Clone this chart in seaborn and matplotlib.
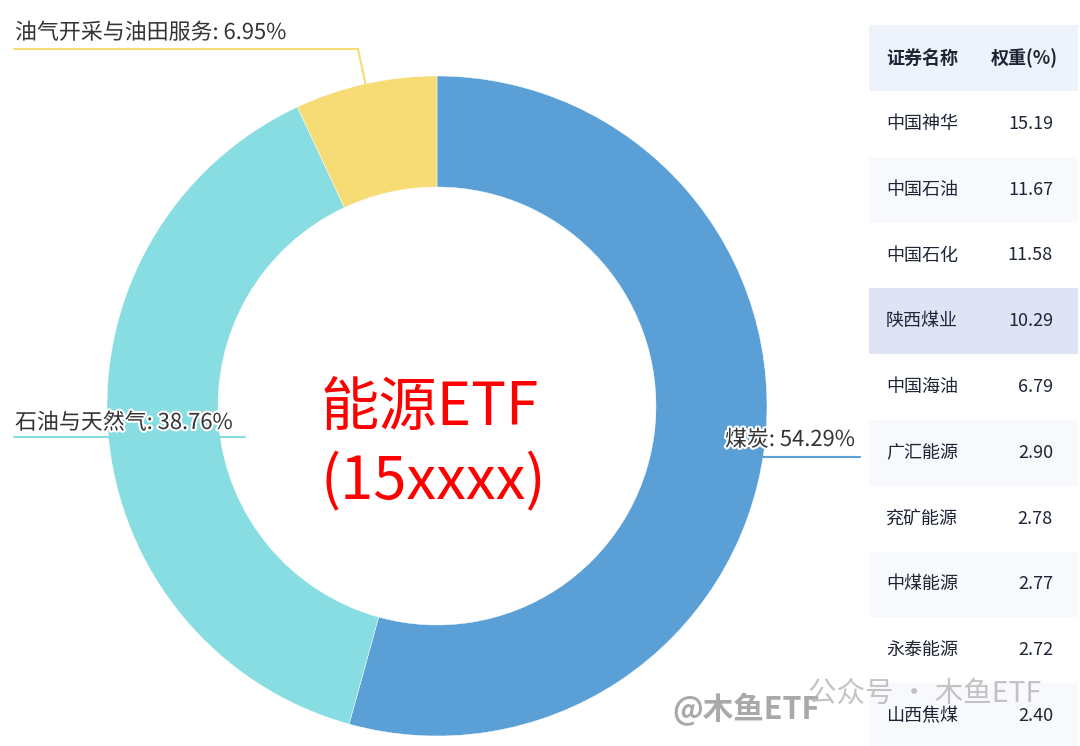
import matplotlib.pyplot as plt
import matplotlib.patheffects as pe
from matplotlib.patches import Rectangle
import numpy as np
import seaborn as sns

# sector weights of the ETF (clockwise from 12 o'clock)
sectors = ["煤炭", "石油与天然气", "油气开采与油田服务"]
sector_weights = [54.29, 38.76, 6.95]
sector_colors = ["#5AA0D6", "#88DDE2", "#F7DB74"]

# top holdings table
stocks = ["中国神华", "中国石油", "中国石化", "陕西煤业", "中国海油",
          "广汇能源", "兖矿能源", "中煤能源", "永泰能源", "山西焦煤"]
stock_weights = [15.19, 11.67, 11.58, 10.29, 6.79, 2.90, 2.78, 2.77, 2.72, 2.40]
table_header = ["证券名称", "权重(%)"]

sns.set_theme(style="white")
plt.rcParams['font.family'] = ['Noto Sans CJK SC', 'DejaVu Sans']

W, H = 1080, 746
fig = plt.figure(figsize=(10.8, 7.46), dpi=100)
ax = fig.add_axes([0, 0, 1, 1])

# donut, pixel coordinates (y up)
cx, cy, r = 437, H - 406, 330
wedges, _ = ax.pie(sector_weights, colors=sector_colors, startangle=90, counterclock=False,
                   center=(cx, cy), radius=r, frame=True,
                   wedgeprops=dict(width=111, edgecolor="white", linewidth=0.3))
ax.set_xlim(0, W)
ax.set_ylim(0, H)
ax.set_aspect("equal")
ax.axis("off")

stroke = [pe.withStroke(linewidth=3, foreground="white")]
txt_col = "#333333"
lbl_fs = 15.8

# label: coal (right)
ax.plot([763, 860], [H - 457, H - 457], color=sector_colors[0], lw=1.5)
ax.text(725, H - 440, f"{sectors[0]}: {sector_weights[0]:.2f}%", fontsize=lbl_fs, color=txt_col,
        va="center", ha="left", path_effects=stroke)

# label: oil & gas (left)
ax.plot([14, 245], [H - 437, H - 437], color=sector_colors[1], lw=1.5)
ax.text(15, H - 423, f"{sectors[1]}: {sector_weights[1]:.2f}%", fontsize=lbl_fs, color=txt_col,
        va="center", ha="left", path_effects=stroke)

# label: oilfield services (top-left), leader line to wedge middle
ang = np.deg2rad(90 + sector_weights[2] / 2 * 3.6)
px, py = cx + r * np.cos(ang), cy + r * np.sin(ang)
ax.plot([14, 358, px], [H - 49, H - 49, py], color=sector_colors[2], lw=1.5)
ax.text(15, H - 33, f"{sectors[2]}: {sector_weights[2]:.2f}%", fontsize=lbl_fs, color=txt_col,
        va="center", ha="left", path_effects=stroke)

# center title
ax.text(430, H - 408, "能源ETF", fontsize=42, color="#FF0000", ha="center", va="center")
ax.text(433, H - 483, "(15xxxx)", fontsize=43, color="#FF0000", ha="center", va="center")

# holdings table
tx0, tx1 = 869, 1078
head_top, head_bot = 25, 91
row_h = 65.8
ax.add_patch(Rectangle((tx0, H - head_bot), tx1 - tx0, head_bot - head_top, color="#EEF2FA", lw=0))
ax.text(886, H - (head_top + head_bot) / 2, table_header[0], fontsize=13, fontweight="bold",
        color="#1E2535", va="center", ha="left")
ax.text(1058, H - (head_top + head_bot) / 2, table_header[1], fontsize=13, fontweight="bold",
        color="#1E2535", va="center", ha="right")
for i, (name, w) in enumerate(zip(stocks, stock_weights)):
    top = head_bot + i * row_h
    if name == "陕西煤业":
        bg = "#DFE4F4"
    elif i % 2 == 1:
        bg = "#F7F9FC"
    else:
        bg = "white"
    ax.add_patch(Rectangle((tx0, H - top - row_h), tx1 - tx0, row_h, color=bg, lw=0))
    yc = H - (top + row_h / 2)
    ax.text(886, yc, name, fontsize=13, color="#1E2535", va="center", ha="left")
    ax.text(1053, yc, f"{w:.2f}", fontsize=13, color="#1E2535", va="center", ha="right")

# watermark
ax.text(672, H - 710, "@木鱼ETF", fontsize=22, fontweight="bold", color="#9A9A9A",
        alpha=0.85, va="center", ha="left")
ax.text(808, H - 694, "公众号 · 木鱼ETF", fontsize=20.5, color="#B5B5B5",
        alpha=0.8, va="center", ha="left")

fig.savefig("out.png", dpi=100)
